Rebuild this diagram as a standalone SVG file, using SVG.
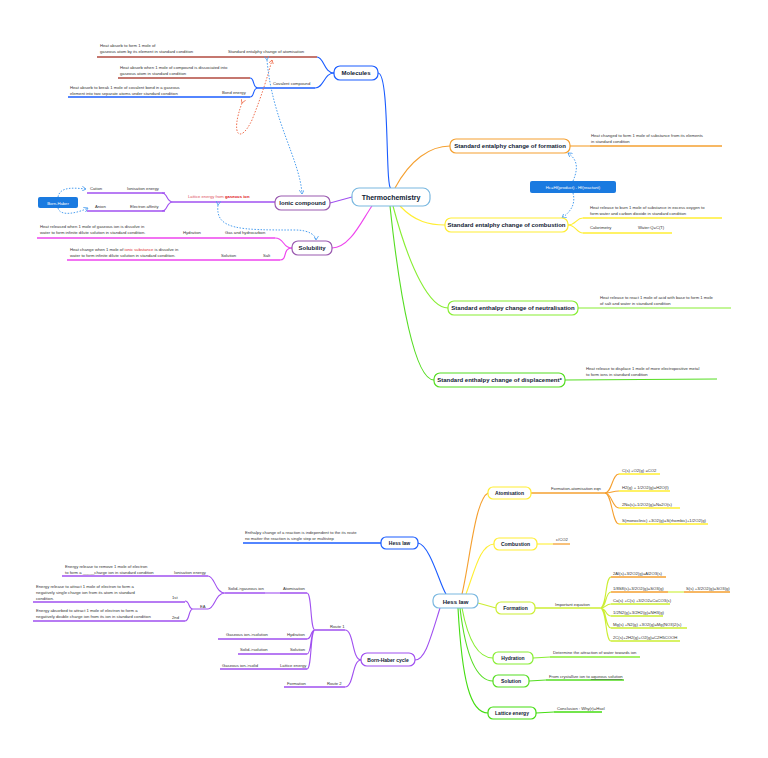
<svg xmlns="http://www.w3.org/2000/svg" width="768" height="758" viewBox="0 0 768 758">
<style>
text{font-family:"Liberation Sans",Arial,sans-serif;fill:#333;font-size:4.2px}
.n{font-size:6px;font-weight:bold;fill:#123;text-anchor:middle}
.nb{fill:#fff;stroke-width:1.2}
.l{fill:none;stroke-width:1.3}
.c{fill:none;stroke-width:1.1}
.d{fill:none;stroke-width:1;stroke-dasharray:1.5 1.5}
</style>
<rect width="768" height="758" fill="#fff"/>
<defs>
<marker id="ab" markerWidth="5" markerHeight="5" refX="4" refY="2.5" orient="auto"><path d="M0,0 L4,2.5 L0,5" fill="none" stroke="#4a9ef0" stroke-width="0.8"/></marker>
<marker id="ao" markerWidth="5" markerHeight="5" refX="4" refY="2.5" orient="auto"><path d="M0,0 L4,2.5 L0,5" fill="none" stroke="#f07050" stroke-width="0.8"/></marker>
</defs>
<g id="connectors">
<path class="c" stroke="#1a5cff" d="M378,73 C390,73 385,190 391,188"/>
<path class="c" stroke="#a050f0" d="M330,203 L352,197"/>
<path class="c" stroke="#ee44ee" d="M332,248 C350,248 362,220 372,206"/>
<path class="c" stroke="#f5a030" d="M395,188 C410,160 430,146 450,146"/>
<path class="c" stroke="#ffee33" d="M400,206 C415,222 430,225 445,225"/>
<path class="c" stroke="#88ee33" d="M393,206 C410,270 430,308 448,308"/>
<path class="c" stroke="#55dd22" d="M390,206 C400,300 415,380 434,380"/>
<path class="c" stroke="#1a5cff" d="M334,73 C324,73 324,57 317,57"/>
<path class="c" stroke="#1a5cff" d="M334,73 C324,73 324,88 315,88"/>
<path class="l" stroke="#b24a3f" d="M97,57 L317,57"/>
<path class="l" stroke="#1a5cff" d="M258,88 L315,88"/>
<path class="c" stroke="#1a5cff" d="M258,88 C252,88 255,78 250,78"/>
<path class="c" stroke="#1a5cff" d="M258,88 C252,88 255,97 250,97"/>
<path class="l" stroke="#b24a3f" d="M118,78 L250,78"/>
<path class="l" stroke="#1a5cff" d="M68,97 L250,97"/>
<path class="d" stroke="#f07050" d="M242,103 C230,135 240,145 252,120 C262,95 268,75 272,60" marker-end="url(#ao)" marker-start="url(#ao)"/>
<path class="d" stroke="#4a9ef0" d="M267,60 C272,120 300,160 302,194" marker-start="url(#ab)" marker-end="url(#ab)"/>
<path class="l" stroke="#a050f0" d="M173,202 L275,202"/>
<path class="c" stroke="#a050f0" d="M173,202 C166,202 168,193 162,193"/>
<path class="c" stroke="#a050f0" d="M173,202 C166,202 168,211 162,211"/>
<path class="l" stroke="#a050f0" d="M87,193 L165,193"/>
<path class="l" stroke="#a050f0" d="M87,211 L165,211"/>
<path class="d" stroke="#4a9ef0" d="M58,197 C60,186 75,188 86,189" marker-end="url(#ab)"/>
<path class="d" stroke="#4a9ef0" d="M58,208 C60,217 78,213 88,208" marker-end="url(#ab)"/>
<path class="d" stroke="#4a9ef0" d="M218,205 C215,230 240,230 295,230 C310,230 316,236 316,240" marker-start="url(#ab)" marker-end="url(#ab)"/>
<path class="l" stroke="#ee44ee" d="M37,238 L275,238"/>
<path class="l" stroke="#ee44ee" d="M67,260 L280,260"/>
<path class="c" stroke="#ee44ee" d="M292,248 C282,248 285,238 275,238"/>
<path class="c" stroke="#ee44ee" d="M292,248 C282,248 288,260 280,260"/>
<path class="c" stroke="#f5a030" d="M570,146 L590,146"/>
<path class="l" stroke="#f5a030" d="M590,146 L722,146"/>
<path class="d" stroke="#4a9ef0" d="M573,181 C580,165 575,158 568,153" marker-end="url(#ab)"/>
<path class="d" stroke="#4a9ef0" d="M573,193 C576,205 570,212 562,218" marker-end="url(#ab)"/>
<path class="c" stroke="#ffee33" d="M568,225 C576,225 576,218 583,218"/>
<path class="c" stroke="#ffee33" d="M568,225 C576,225 576,233 583,233"/>
<path class="l" stroke="#ffee33" d="M583,218 L722,218"/>
<path class="l" stroke="#ffee33" d="M583,233 L672,233"/>
<path class="c" stroke="#88ee33" d="M578,308 L731,308"/>
<path class="c" stroke="#55dd22" d="M565,380 L717,379"/>
<path class="c" stroke="#1a5cff" d="M418,543 C430,545 440,585 446,594"/>
<path class="l" stroke="#1a5cff" d="M243,543 L381,543"/>
<path class="c" stroke="#f5a030" d="M462,594 C470,560 475,500 488,493"/>
<path class="c" stroke="#ffee33" d="M466,594 C475,570 480,545 494,544"/>
<path class="c" stroke="#ccee33" d="M478,603 L496,608"/>
<path class="c" stroke="#88ee33" d="M462,608 C468,640 478,658 493,658"/>
<path class="c" stroke="#55dd22" d="M460,608 C465,650 475,681 493,681"/>
<path class="c" stroke="#44dd11" d="M458,608 C462,680 470,713 488,713"/>
<path class="c" stroke="#a050f0" d="M440,608 C430,640 425,660 415,660"/>
<path class="l" stroke="#f5a030" d="M531,493 L605,493"/>
<path class="c" stroke="#f5a030" d="M605,493 C612,493 612,474 619,474"/>
<path class="c" stroke="#f5a030" d="M605,493 C612,493 612,491 619,491"/>
<path class="c" stroke="#f5a030" d="M605,493 C612,493 612,508 619,508"/>
<path class="c" stroke="#f5a030" d="M605,493 C612,493 612,524 619,524"/>
<path class="l" stroke="#ffee33" d="M619,474 L660,474 M619,491 L670,491 M619,508 L680,508 M619,524 L708,524"/>
<path class="c" stroke="#ffee33" d="M537,544 L553,544"/>
<path class="l" stroke="#f5a030" d="M553,544 L570,544"/>
<path class="l" stroke="#ccee33" d="M535,608 L600,608"/>
<path class="c" stroke="#ccee33" d="M600,608 C607,608 605,577 611,577 M600,608 C607,608 605,592 611,592 M600,608 C607,608 605,604 611,604 M600,608 C607,608 605,616 611,616 M600,608 C607,608 605,628 611,628 M600,608 C607,608 605,641 611,641"/>
<path class="l" stroke="#f5a030" d="M611,577 L666,577 M611,592 L668,592 M684,592 L730,592"/>
<path class="c" stroke="#ccee33" d="M668,592 L684,592"/>
<path class="l" stroke="#ccee33" d="M611,604 L670,604 M611,616 L663,616 M611,628 L687,628 M611,641 L680,641"/>
<path class="c" stroke="#88ee33" d="M533,658 L550,657"/>
<path class="l" stroke="#88ee33" d="M550,657 L640,657"/>
<path class="c" stroke="#55dd22" d="M529,681 L546,680"/>
<path class="l" stroke="#55dd22" d="M546,680 L624,680"/>
<path class="c" stroke="#44dd11" d="M536,713 L554,712"/>
<path class="l" stroke="#44dd11" d="M554,712 L602,712"/>
<path class="c" stroke="#a050f0" d="M361,660 C352,660 354,630 345,630"/>
<path class="c" stroke="#a050f0" d="M361,660 C352,660 354,687 345,687"/>
<path class="l" stroke="#a050f0" d="M315,630 L345,630 M284,687 L345,687"/>
<path class="c" stroke="#a050f0" d="M315,630 C310,630 312,593 307,593 M315,630 C310,630 312,639 307,639 M315,630 C310,630 312,654 307,654 M315,630 C310,630 312,669 307,669"/>
<path class="l" stroke="#a050f0" d="M280,593 L307,593 M218,639 L307,639 M238,654 L307,654 M220,669 L307,669"/>
<path class="l" stroke="#a050f0" d="M225,593 L265,593"/>
<path class="c" stroke="#a050f0" d="M265,593 L280,593"/>
<path class="c" stroke="#a050f0" d="M225,593 C215,593 215,576 208,576 M225,593 C215,593 215,609 208,609"/>
<path class="l" stroke="#a050f0" d="M62,576 L208,576"/>
<path class="c" stroke="#a050f0" d="M193,609 L208,609 M193,609 C188,609 190,601 185,601 M193,609 C188,609 190,621 185,621"/>
<path class="l" stroke="#a050f0" d="M33,602 L185,602 M33,621 L185,621"/>
</g>
<g id="thermochemistry"><rect class="nb" x="352" y="188" width="78" height="18" rx="7" stroke="#7ab8e0"/><text class="n" x="391" y="199.5" style="font-size:7px">Thermochemistry</text></g>
<g id="molecules"><rect class="nb" x="334" y="66" width="44" height="14" rx="6" stroke="#1a5cff"/><text class="n" x="356" y="75">Molecules</text></g>
<g id="ionic"><rect class="nb" x="275" y="196" width="55" height="14" rx="6" stroke="#9a5ab0"/><text class="n" x="302.5" y="205">Ionic compound</text></g>
<g id="solubility"><rect class="nb" x="292" y="241" width="40" height="14" rx="6" stroke="#9a5ab0"/><text class="n" x="312" y="250">Solubility</text></g>
<g id="sformation"><rect class="nb" x="450" y="139" width="120" height="14" rx="6" stroke="#f5a030"/><text class="n" x="510" y="148">Standard entalphy change of formation</text></g>
<g id="sformula"><rect x="530" y="181" width="86" height="12" rx="2" fill="#1a7ae0"/><text x="573" y="189" text-anchor="middle" style="fill:#fff">Hc=Hf(product) - Hf(reactant)</text></g>
<g id="scombustion"><rect class="nb" x="445" y="218" width="123" height="14" rx="6" stroke="#ffee33"/><text class="n" x="506.5" y="227">Standard entalphy change of combustion</text></g>
<g id="sneutral"><rect class="nb" x="448" y="301" width="130" height="14" rx="6" stroke="#88ee33"/><text class="n" x="513" y="310">Standard enthalpy change of neutralisation</text></g>
<g id="sdisplace"><rect class="nb" x="434" y="373" width="131" height="14" rx="6" stroke="#55dd22"/><text class="n" x="499.5" y="382">Standard enthalpy change of displacement*</text></g>
<g id="bornhaber1"><rect x="38" y="197" width="40" height="11" rx="2" fill="#1a7ae0"/><text x="58" y="204.5" text-anchor="middle" style="fill:#fff">Born-Haber</text></g>
<g id="top-leaves">
<text x="100" y="47">Heat absorb to form 1 mole of</text><text x="100" y="53">gaseous atom by its element in standard condition</text>
<text x="228" y="53">Standard entalphy change of atomisation</text>
<text x="120" y="69">Heat absorb when 1 mole of compound is dissociated into</text><text x="120" y="75">gaseous atom in standard condition</text>
<text x="273" y="85">Covalent compound</text>
<text x="70" y="89">Heat absorb to break 1 mole of covalent bond in a gaseous</text><text x="70" y="95">element into two separate atoms under standard condition</text>
<text x="222" y="94">Bond energy</text>
<text x="188" y="198" style="fill:#e05060">Lattice energy from <tspan style="fill:#e01020;font-weight:bold">gaseous ion</tspan></text>
<text x="90" y="190">Cation</text><text x="127" y="190">Ionisation energy</text>
<text x="95" y="208">Anion</text><text x="130" y="208">Electron affinity</text>
<text x="40" y="228">Heat released when 1 mole of gaseous ion is dissolve in</text><text x="40" y="234">water to form infinite dilute solution in standard condition.</text>
<text x="183" y="234">Hydration</text><text x="225" y="234">Gas and hydrocarbon</text>
<text x="70" y="251">Heat change when 1 mole of <tspan style="fill:#e03030">ionic substance</tspan> is dissolve in</text><text x="70" y="257">water to form infinite dilute solution in standard condition.</text>
<text x="221" y="257">Solution</text><text x="263" y="257">Salt</text>
<text x="591" y="137">Heat changed to form 1 mole of substance from its elements</text><text x="591" y="143">in standard condition</text>
<text x="590" y="209">Heat release to burn 1 mole of substance in excess oxygen to</text><text x="590" y="215">form water and carbon dioxide in standard condition</text>
<text x="590" y="229">Calorimetry</text><text x="638" y="229">Water:Q=C(T)</text>
<text x="600" y="299">Heat release to react 1 mole of acid with base to form 1 mole</text><text x="600" y="305">of salt and water in standard condition</text>
<text x="586" y="370">Heat release to displace 1 mole of more electropositive metal</text><text x="586" y="376">to form ions in standard condition</text>
</g>
<g id="hess"><rect class="nb" x="433" y="594" width="45" height="14" rx="6" stroke="#7ab8e0"/><text class="n" x="455.5" y="603.5">Hess law</text></g>
<g id="hesslaw2"><rect class="nb" x="381" y="537" width="37" height="12" rx="5" stroke="#1a5cff"/><text class="n" x="399.5" y="545" style="font-size:5px">Hess law</text></g>
<g id="atomisation"><rect class="nb" x="488" y="487" width="43" height="12" rx="5" stroke="#ffee33"/><text class="n" x="509.5" y="495" style="font-size:5px">Atomisation</text></g>
<g id="combustion"><rect class="nb" x="494" y="538" width="43" height="12" rx="5" stroke="#ffee33"/><text class="n" x="515.5" y="546" style="font-size:5px">Combustion</text></g>
<g id="formation"><rect class="nb" x="496" y="602" width="39" height="12" rx="5" stroke="#ccee33"/><text class="n" x="515.5" y="610" style="font-size:5px">Formation</text></g>
<g id="hydration"><rect class="nb" x="493" y="652" width="40" height="12" rx="5" stroke="#88ee33"/><text class="n" x="513" y="660" style="font-size:5px">Hydration</text></g>
<g id="solution"><rect class="nb" x="493" y="675" width="36" height="12" rx="5" stroke="#55dd22"/><text class="n" x="511" y="683" style="font-size:5px">Solution</text></g>
<g id="lattice"><rect class="nb" x="488" y="707" width="48" height="12" rx="5" stroke="#44dd11"/><text class="n" x="512" y="715" style="font-size:5px">Lattice energy</text></g>
<g id="bhcycle"><rect class="nb" x="361" y="653" width="54" height="13" rx="6" stroke="#a050f0"/><text class="n" x="388" y="662" style="font-size:5px">Born-Haber cycle</text></g>
<g id="bottom-leaves">
<text x="245" y="534">Enthalpy change of a reaction is independent to the its route</text><text x="245" y="540">no matter the reaction is single step or multistep</text>
<text x="551" y="490">Formation-atomisation eqn</text>
<text x="622" y="472">C(s) +O2(g) =CO2</text>
<text x="622" y="489">H2(g) + 1/2O2(g)=H2O(l)</text>
<text x="622" y="506">2Na(s)+1/2O2(g)=Na2O(s)</text>
<text x="622" y="522">S(monoclinic) +3O2(g)=S(rhombic)+1/2O2(g)</text>
<text x="556" y="541">c/CO2</text>
<text x="555" y="606">Important equation</text>
<text x="613" y="575">2Al(s)+3/2O2(g)=Al2O3(s)</text>
<text x="613" y="590">1/8S8(s)+3/2O2(g)=SO3(g)</text>
<text x="686" y="590">S(s) +3/2O2(g)=SO3(g)</text>
<text x="613" y="602">Ca(s) +C(s) +3/2O2=CaCO3(s)</text>
<text x="613" y="614">1/2N2(g)+3/2H2(g)=NH3(g)</text>
<text x="613" y="626">Mg(s) +N2(g) +3O2(g)=Mg(NO3)2(s)</text>
<text x="613" y="639">2C(s)+2H2(g)+O2(g)=C2H5COOH</text>
<text x="553" y="654">Determine the attraction of water towards ion</text>
<text x="549" y="678">From crystallize ion to <tspan text-decoration="underline">aqueous solution</tspan></text>
<text x="557" y="710">Conclusion : Why(r)=Hsol</text>
<text x="65" y="568">Energy release to remove 1 mole of electron</text><text x="65" y="574">to form a _____charge ion in standard condition</text>
<text x="174" y="574">Ionisation energy</text>
<text x="228" y="590">Solid-&gt;gaseous ion</text><text x="283" y="590">Atomisation</text>
<text x="36" y="588">Energy release to attract 1 mole of electron to form a</text><text x="36" y="594">negatively single charge ion from its atom in standard</text><text x="36" y="600">condition.</text>
<text x="172" y="599">1st</text><text x="200" y="608">EA</text><text x="172" y="619">2nd</text>
<text x="36" y="612">Energy absorbed to attract 1 mole of electron to form a</text><text x="36" y="618">negatively double charge ion from its ion in standard condition</text>
<text x="330" y="628">Route 1</text>
<text x="226" y="636">Gaseous ion-&gt;solution</text><text x="287" y="636">Hydration</text>
<text x="240" y="651">Solid-&gt;solution</text><text x="290" y="651">Solution</text>
<text x="222" y="667">Gaseous ion-&gt;solid</text><text x="280" y="667">Lattice energy</text>
<text x="287" y="685">Formation</text><text x="327" y="685">Route 2</text>
</g>
</svg>
